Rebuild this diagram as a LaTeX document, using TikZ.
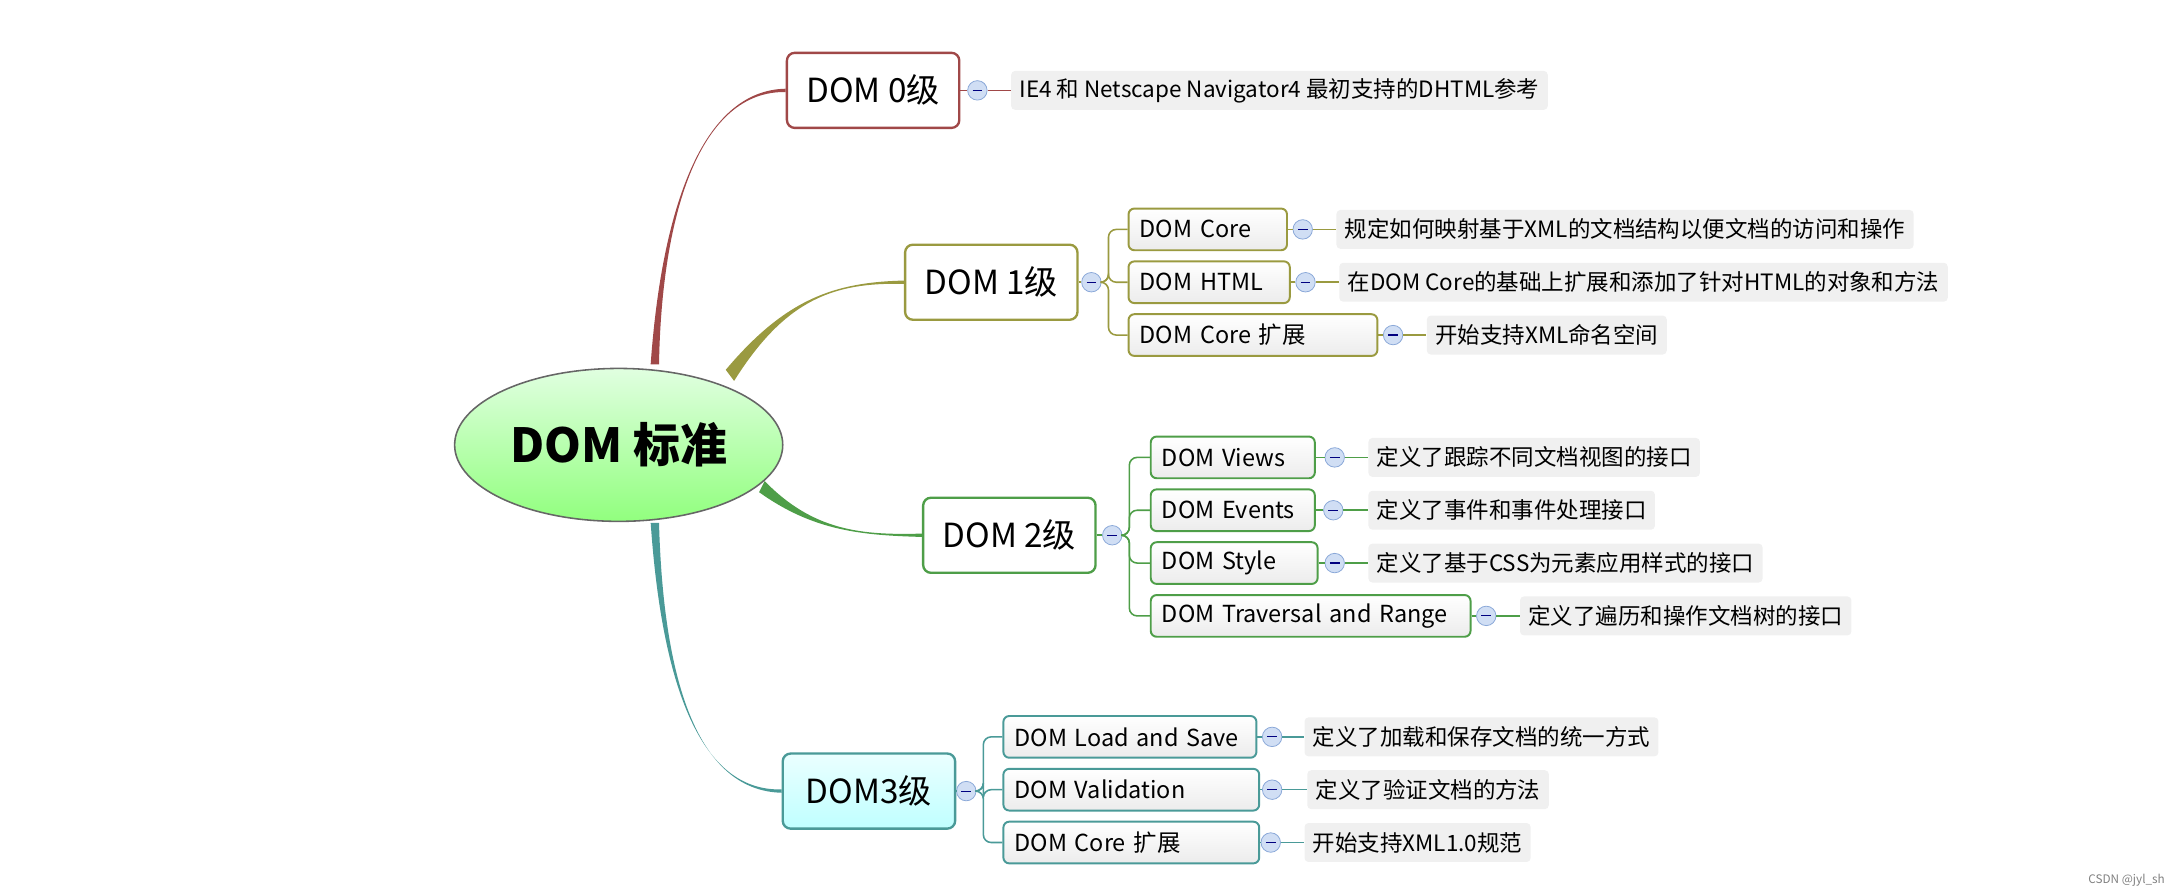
\documentclass[tikz,border=0pt]{standalone}
\usepackage{fontspec}
\setmainfont{Noto Sans CJK SC}
\usetikzlibrary{calc,shapes.geometric}
\definecolor{czero}{HTML}{A04848}
\definecolor{cone}{HTML}{9A9A40}
\definecolor{ctwo}{HTML}{4E9E48}
\definecolor{cthree}{HTML}{4A9A98}
\definecolor{minusfill}{HTML}{D0DEF4}
\definecolor{minusdraw}{HTML}{8AA8D8}
\newcommand\pxu{0.025cm}
% tapered branch: start, offset, control 1, control 2, target, colour
\newcommand\branch[6]{\fill[#6] ($(#1)-(#2)$) .. controls #3 and #4 .. ($(#5.west)+(0,-1.2)$)
  -- ($(#5.west)+(0,1.2)$) .. controls #4 and #3 .. ($(#1)+(#2)$) -- cycle;}
\begin{document}
\begin{tikzpicture}[x=0.025cm,y=-0.025cm,
    root/.style={ellipse,draw=gray!80!black,line width=0.8pt,top color=green!12!white,bottom color=green!45!white!90!lime,
      minimum width=236*\pxu,minimum height=110*\pxu,font=\fontsize{24}{28}\selectfont\bfseries},
    lvl/.style={rounded corners=4pt,line width=1.2pt,fill=white,minimum width=124*\pxu,minimum height=54*\pxu,
      font=\fontsize{17}{20}\selectfont},
    kid/.style={rounded corners=3pt,line width=1pt,anchor=west,align=left,top color=white,bottom color=gray!15,
      minimum height=30*\pxu,inner xsep=8*\pxu,font=\fontsize{12}{14}\selectfont},
    lab/.style={anchor=west,fill=gray!12,rounded corners=2pt,minimum height=28*\pxu,inner xsep=6*\pxu,
      font=\fontsize{11.5}{14}\selectfont},
    mc/.style={circle,draw=minusdraw,fill=minusfill,minimum size=14*\pxu,inner sep=0pt,
      path picture={\draw[blue!50!black,line width=0.6pt] ([xshift=-2.5pt]path picture bounding box.center)
        -- ([xshift=2.5pt]path picture bounding box.center);}},
    wire/.style={line width=0.8pt}]
    \useasboundingbox (0,0) rectangle (1568,643);

    \node[root] (root) at (445,320) {DOM 标准};

    \coordinate (s0) at (471,262);
    \coordinate (s1) at (525,270);
    \coordinate (s2) at (548,350);
    \coordinate (s3) at (471,376);

    % DOM 0
    \node[lvl,draw=czero] (dom0) at (628,65) {DOM 0级};
    \node[mc] (m0) at (703,65) {};
    \node[lab] (t0) at (727,65) {IE4 和 Netscape Navigator4 最初支持的DHTML参考};
    \branch{s0}{3,0}{(476,150)}{(505,65)}{dom0}{czero}
    \draw[wire,czero] (dom0) -- (m0);
    \draw[wire,czero] (m0) -- (t0);

    % DOM 1
    \node[lvl,draw=cone] (dom1) at (713,203) {DOM 1级};
    \node[mc] (m1) at (785,203) {};
    \node[kid,draw=cone,text width=98*\pxu] (k11) at (811,165) {DOM Core};
    \node[kid,draw=cone,text width=100*\pxu] (k12) at (811,203) {DOM HTML};
    \node[kid,draw=cone,text width=163*\pxu] (k13) at (811,241) {DOM Core 扩展};
    \node[mc] (m11) at (937,165) {};
    \node[mc] (m12) at (939,203) {};
    \node[mc] (m13) at (1002,241) {};
    \node[lab] (t11) at (961,165) {规定如何映射基于XML的文档结构以便文档的访问和操作};
    \node[lab] (t12) at (963,203) {在DOM Core的基础上扩展和添加了针对HTML的对象和方法};
    \node[lab] (t13) at (1026,241) {开始支持XML命名空间};
    \branch{s1}{3,4}{(565,215)}{(600,203)}{dom1}{cone}
    \draw[wire,cone] (dom1) -- (m1);
    \foreach \k in {11,12,13} {
      \draw[wire,cone,rounded corners=4pt] (m1.east) -- ++(5,0) |- (k\k.west);
      \draw[wire,cone] (k\k) -- (m\k);
      \draw[wire,cone] (m\k) -- (t\k);
    }

    % DOM 2
    \node[lvl,draw=ctwo] (dom2) at (726,385) {DOM 2级};
    \node[mc] (m2) at (800,385) {};
    \node[kid,draw=ctwo,text width=102*\pxu] (k21) at (827,329) {DOM Views};
    \node[kid,draw=ctwo,text width=102*\pxu] (k22) at (827,367) {DOM Events};
    \node[kid,draw=ctwo,text width=104*\pxu] (k23) at (827,405) {DOM Style};
    \node[kid,draw=ctwo,text width=214*\pxu] (k24) at (827,443) {DOM Traversal and Range};
    \node[mc] (m21) at (960,329) {};
    \node[mc] (m22) at (959,367) {};
    \node[mc] (m23) at (960,405) {};
    \node[mc] (m24) at (1069,443) {};
    \node[lab] (t21) at (984,329) {定义了跟踪不同文档视图的接口};
    \node[lab] (t22) at (984,367) {定义了事件和事件处理接口};
    \node[lab] (t23) at (984,405) {定义了基于CSS为元素应用样式的接口};
    \node[lab] (t24) at (1093,443) {定义了遍历和操作文档树的接口};
    \branch{s2}{-2,4}{(585,382)}{(620,385)}{dom2}{ctwo}
    \draw[wire,ctwo] (dom2) -- (m2);
    \foreach \k in {21,22,23,24} {
      \draw[wire,ctwo,rounded corners=4pt] (m2.east) -- ++(5,0) |- (k\k.west);
      \draw[wire,ctwo] (k\k) -- (m\k);
      \draw[wire,ctwo] (m\k) -- (t\k);
    }

    % DOM 3
    \node[lvl,draw=cthree,fill=none,top color=cyan!8,bottom color=cyan!25] (dom3) at (625,569) {DOM3级};
    \node[mc] (m3) at (695,569) {};
    \node[kid,draw=cthree,text width=166*\pxu] (k31) at (721,530) {DOM Load and Save};
    \node[kid,draw=cthree,text width=168*\pxu] (k32) at (721,568) {DOM Validation};
    \node[kid,draw=cthree,text width=168*\pxu] (k33) at (721,606) {DOM Core 扩展};
    \node[mc] (m31) at (915,530) {};
    \node[mc] (m32) at (915,568) {};
    \node[mc] (m33) at (914,606) {};
    \node[lab] (t31) at (938,530) {定义了加载和保存文档的统一方式};
    \node[lab] (t32) at (940,568) {定义了验证文档的方法};
    \node[lab] (t33) at (938,606) {开始支持XML1.0规范};
    \branch{s3}{3,0}{(478,520)}{(515,569)}{dom3}{cthree}
    \draw[wire,cthree] (dom3) -- (m3);
    \foreach \k in {31,32,33} {
      \draw[wire,cthree,rounded corners=4pt] (m3.east) -- ++(5,0) |- (k\k.west);
      \draw[wire,cthree] (k\k) -- (m\k);
      \draw[wire,cthree] (m\k) -- (t\k);
    }

    \node[gray,font=\fontsize{6}{7}\selectfont,anchor=east] (mark) at (1562,633) {CSDN @jyl\_sh};
\end{tikzpicture}
\end{document}
